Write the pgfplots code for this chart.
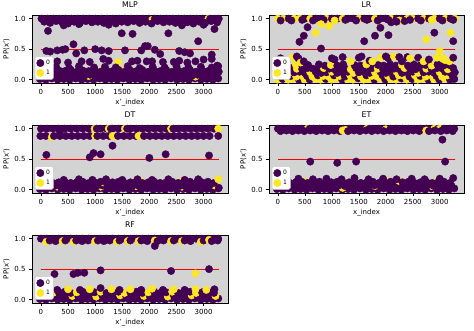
\documentclass[border=0pt]{standalone}
\usepackage{pgfplots}
\pgfplotsset{compat=1.18}
\usepackage{pgfplotstable}
\usepackage{fontspec}
\setmainfont{DejaVu Sans}
\definecolor{vp}{HTML}{440154}
\definecolor{vy}{HTML}{FDE725}
\definecolor{bgc}{HTML}{D3D3D3}
\newcommand{\tk}{\fontsize{7.0}{8}\selectfont}
\newcommand{\tl}{\fontsize{7.8}{9}\selectfont}
\newcommand{\lgf}{\fontsize{6.0}{7}\selectfont}

\pgfplotstableread[row sep=\\]{
x y c\\
10 1.0 p\\ 120 1.0 p\\ 230 1.0 p\\ 340 1.0 p\\ 450 1.0 p\\ 560 1.0 p\\ 670 1.0 p\\ 780 1.0 p\\ 890 1.0 p\\ 1000 1.0 p\\
1110 1.0 p\\ 1220 1.0 p\\ 1330 1.0 p\\ 1440 1.0 p\\ 1550 1.0 p\\ 1660 1.0 p\\ 1770 1.0 p\\ 1880 1.0 p\\ 1990 1.0 p\\ 2050 0.98 y\\ 2100 1.0 p\\
2210 1.0 p\\ 2320 1.0 p\\ 2430 1.0 p\\ 2540 1.0 p\\ 2650 1.0 p\\ 2760 1.0 p\\ 2870 1.0 p\\ 2980 1.0 p\\ 3090 1.0 y\\ 3120 1.0 p\\ 3200 1.0 p\\ 3280 1.0 p\\
60 0.95 p\\ 170 0.93 p\\ 280 0.96 p\\ 390 0.94 p\\ 500 0.92 p\\ 610 0.95 p\\ 720 0.93 p\\ 830 0.96 p\\ 940 0.94 p\\ 1050 0.95 p\\
1160 0.93 p\\ 1270 0.96 p\\ 1380 0.92 p\\ 1490 0.95 p\\ 1600 0.94 p\\ 1710 0.96 p\\ 1820 0.93 p\\ 1930 0.95 p\\ 2040 0.92 p\\ 2150 0.96 p\\
2260 0.94 p\\ 2370 0.95 p\\ 2480 0.93 p\\ 2590 0.96 p\\ 2700 0.94 p\\ 2810 0.92 p\\ 2920 0.95 p\\ 3030 0.93 p\\ 3140 0.96 p\\ 3250 0.94 p\\
130 0.80 p\\ 1490 0.76 p\\ 1690 0.75 p\\ 2350 0.76 p\\ 3200 0.83 p\\ 420 0.89 p\\ 1250 0.90 p\\ 2600 0.89 p\\ 3000 0.90 p\\ 700 0.91 p\\
100 0.47 p\\ 170 0.46 p\\ 300 0.48 p\\ 400 0.49 p\\ 450 0.50 p\\ 600 0.58 p\\ 650 0.43 p\\ 800 0.48 p\\ 1000 0.50 p\\ 1120 0.48 p\\
1250 0.47 p\\ 1550 0.48 p\\ 1850 0.48 p\\ 1920 0.55 p\\ 1970 0.55 p\\ 2100 0.49 p\\ 2200 0.42 p\\ 2550 0.47 p\\ 2650 0.45 p\\ 2750 0.43 p\\
2900 0.63 p\\ 3150 0.41 p\\
80 0.31 p\\ 300 0.30 p\\ 500 0.28 p\\ 750 0.30 p\\ 900 0.29 p\\ 1150 0.34 p\\ 1250 0.31 p\\ 1420 0.29 y\\ 1680 0.30 p\\ 1780 0.31 p\\
1950 0.30 p\\ 2050 0.30 p\\ 2250 0.29 p\\ 2450 0.29 p\\ 2550 0.31 p\\ 2700 0.28 p\\ 2850 0.30 p\\ 3000 0.33 p\\ 3150 0.34 p\\ 3250 0.23 p\\
-20 0.01 p\\ 90 0.0 p\\ 200 0.02 p\\ 310 0.0 p\\ 420 0.01 p\\ 530 0.0 p\\ 640 0.02 p\\ 750 0.0 p\\ 860 0.01 p\\ 970 0.0 p\\
1080 0.02 p\\ 1190 0.0 p\\ 1300 0.01 p\\ 1410 0.0 p\\ 1520 0.02 p\\ 1630 0.0 p\\ 1740 0.01 p\\ 1850 0.0 p\\ 1960 0.02 p\\ 2070 0.0 p\\
2180 0.01 p\\ 2290 0.0 p\\ 2400 0.02 p\\ 2510 0.0 p\\ 2620 0.01 p\\ 2730 0.0 p\\ 2840 0.02 p\\ 2950 0.0 p\\ 3060 0.01 p\\ 3170 0.0 p\\ 3270 0.02 p\\
560 0.10 y\\ 880 0.06 y\\ 1080 0.14 y\\ 1450 0.17 y\\ 1780 0.09 y\\ 2400 0.13 y\\ 2850 0.05 y\\
30 0.07 p\\ 140 0.06 p\\ 250 0.08 p\\ 360 0.07 p\\ 470 0.06 p\\ 580 0.08 p\\ 690 0.07 p\\ 800 0.06 p\\ 910 0.08 p\\ 1020 0.07 p\\
1130 0.06 p\\ 1240 0.08 p\\ 1350 0.07 p\\ 1460 0.06 p\\ 1570 0.08 p\\ 1680 0.07 p\\ 1790 0.06 p\\ 1900 0.08 p\\ 2010 0.07 p\\ 2120 0.06 p\\
2230 0.08 p\\ 2340 0.07 p\\ 2450 0.06 p\\ 2560 0.08 p\\ 2670 0.07 p\\ 2780 0.06 p\\ 2890 0.08 p\\ 3000 0.07 p\\ 3110 0.06 p\\ 3220 0.08 p\\
0 0.14 p\\ 110 0.15 p\\ 220 0.13 p\\ 330 0.15 p\\ 440 0.14 p\\ 550 0.16 p\\ 660 0.13 p\\ 770 0.15 p\\ 880 0.14 p\\ 990 0.16 p\\
1100 0.13 p\\ 1210 0.15 p\\ 1320 0.14 p\\ 1430 0.16 p\\ 1540 0.13 p\\ 1650 0.15 p\\ 1760 0.14 p\\ 1870 0.16 p\\ 1980 0.13 p\\ 2090 0.15 p\\
2200 0.14 p\\ 2310 0.16 p\\ 2420 0.13 p\\ 2530 0.15 p\\ 2640 0.14 p\\ 2750 0.16 p\\ 2860 0.13 p\\ 2970 0.15 p\\ 3080 0.14 p\\ 3190 0.16 p\\ 3280 0.13 p\\
60 0.20 p\\ 280 0.21 p\\ 520 0.19 p\\ 700 0.22 p\\ 980 0.20 p\\ 1180 0.21 p\\ 1380 0.20 p\\ 1600 0.22 p\\ 1820 0.19 p\\ 2060 0.21 p\\
2280 0.20 p\\ 2500 0.22 p\\ 2720 0.20 p\\ 2950 0.21 p\\ 3150 0.20 p\\ 3270 0.22 p\\
}\mlp

\pgfplotstableread[row sep=\\]{
x y c\\
0 1.0 y\\ 100 1.0 y\\ 200 1.0 p\\ 300 1.0 y\\ 400 1.0 y\\ 500 1.0 p\\ 600 1.0 y\\ 700 1.0 p\\ 800 1.0 p\\ 900 1.0 y\\
1000 1.0 p\\ 1100 1.0 p\\ 1200 1.0 y\\ 1300 1.0 p\\ 1400 1.0 p\\ 1500 1.0 y\\ 1600 1.0 p\\ 1700 1.0 p\\ 1800 1.0 y\\ 1900 1.0 p\\
2000 1.0 p\\ 2100 1.0 y\\ 2200 1.0 p\\ 2300 1.0 p\\ 2400 1.0 y\\ 2500 1.0 y\\ 2600 1.0 p\\ 2700 1.0 y\\ 2800 1.0 p\\ 2900 1.0 y\\
3000 1.0 p\\ 3100 1.0 y\\ 3200 1.0 p\\ 3280 1.0 y\\
50 0.97 p\\ 250 0.97 p\\ 450 0.98 p\\ 650 0.97 p\\ 850 0.98 p\\ 1050 0.97 y\\ 1250 0.98 p\\ 1450 0.97 p\\ 1650 0.98 p\\ 1850 0.97 p\\
2050 0.98 p\\ 2250 0.97 y\\ 2450 0.98 p\\ 2650 0.97 p\\ 2850 0.98 y\\ 3050 0.97 p\\ 3250 0.98 p\\
400 0.62 p\\ 480 0.72 p\\ 550 0.86 p\\ 700 0.77 y\\ 800 0.91 y\\ 800 0.51 p\\ 950 0.88 y\\ 1600 0.63 p\\ 1800 0.72 p\\ 1900 0.85 p\\
2050 0.73 p\\ 2100 0.94 p\\ 2200 0.95 p\\ 2350 0.96 p\\ 2750 0.66 y\\ 2900 0.77 p\\ 3200 0.77 y\\ 3250 0.63 p\\ 3000 0.47 y\\
-10 0.0 y\\ 90 0.01 p\\ 190 0.0 y\\ 290 0.02 y\\ 390 0.0 p\\ 490 0.01 y\\ 590 0.0 p\\ 690 0.02 y\\ 790 0.0 y\\ 890 0.01 p\\
990 0.0 y\\ 1090 0.02 y\\ 1190 0.0 p\\ 1290 0.01 y\\ 1390 0.0 y\\ 1490 0.02 p\\ 1590 0.0 y\\ 1690 0.01 y\\ 1790 0.0 p\\ 1890 0.02 y\\
1990 0.0 p\\ 2090 0.01 y\\ 2190 0.0 y\\ 2290 0.02 p\\ 2390 0.0 y\\ 2490 0.01 p\\ 2590 0.0 y\\ 2690 0.02 y\\ 2790 0.0 p\\ 2890 0.01 y\\
2990 0.0 p\\ 3090 0.02 y\\ 3190 0.0 p\\ 3270 0.01 p\\
40 0.06 p\\ 140 0.07 y\\ 240 0.06 p\\ 340 0.05 y\\ 440 0.07 y\\ 540 0.06 p\\ 640 0.05 y\\ 740 0.07 p\\ 840 0.06 y\\ 940 0.05 y\\
1040 0.07 p\\ 1140 0.06 y\\ 1240 0.05 p\\ 1340 0.07 y\\ 1440 0.06 p\\ 1540 0.05 y\\ 1640 0.07 p\\ 1740 0.06 y\\ 1840 0.05 y\\ 1940 0.07 p\\
2040 0.06 y\\ 2140 0.05 p\\ 2240 0.07 y\\ 2340 0.06 y\\ 2440 0.05 p\\ 2540 0.07 y\\ 2640 0.06 p\\ 2740 0.05 y\\ 2840 0.07 y\\ 2940 0.06 p\\
3040 0.05 y\\ 3140 0.07 y\\ 3240 0.06 p\\
0 0.12 p\\ 100 0.13 p\\ 200 0.11 y\\ 300 0.12 p\\ 400 0.13 p\\ 500 0.11 p\\ 600 0.12 y\\ 700 0.13 p\\ 800 0.11 p\\ 900 0.12 p\\
1000 0.13 y\\ 1100 0.11 p\\ 1200 0.12 p\\ 1300 0.13 p\\ 1400 0.11 y\\ 1500 0.12 p\\ 1600 0.13 p\\ 1700 0.11 p\\ 1800 0.12 y\\ 1900 0.13 p\\
2000 0.11 p\\ 2100 0.12 p\\ 2200 0.13 y\\ 2300 0.11 p\\ 2400 0.12 p\\ 2500 0.13 p\\ 2600 0.11 y\\ 2700 0.12 p\\ 2800 0.13 p\\ 2900 0.11 p\\
3000 0.12 y\\ 3100 0.13 p\\ 3200 0.11 p\\ 3280 0.12 p\\
50 0.18 p\\ 150 0.17 p\\ 250 0.19 p\\ 350 0.18 y\\ 450 0.17 p\\ 550 0.19 p\\ 650 0.18 p\\ 750 0.17 p\\ 850 0.19 y\\ 950 0.18 p\\
1050 0.17 p\\ 1150 0.19 p\\ 1250 0.18 p\\ 1350 0.17 y\\ 1450 0.19 p\\ 1550 0.18 p\\ 1650 0.17 p\\ 1750 0.19 p\\ 1850 0.18 y\\ 1950 0.17 p\\
2050 0.19 p\\ 2150 0.18 p\\ 2250 0.17 p\\ 2350 0.19 y\\ 2450 0.18 p\\ 2550 0.17 p\\ 2650 0.19 p\\ 2750 0.18 y\\ 2850 0.17 p\\ 2950 0.19 p\\
3050 0.18 p\\ 3150 0.17 y\\ 3250 0.19 p\\
120 0.24 p\\ 330 0.25 y\\ 450 0.23 p\\ 560 0.24 p\\ 760 0.25 p\\ 870 0.23 p\\ 980 0.24 y\\ 1100 0.23 p\\ 1210 0.25 p\\ 1420 0.24 p\\
1530 0.23 p\\ 1640 0.25 y\\ 1860 0.24 p\\ 1960 0.23 p\\ 2080 0.25 p\\ 2190 0.23 p\\ 2300 0.24 y\\ 2410 0.23 p\\ 2520 0.25 p\\ 2630 0.23 p\\
2740 0.24 p\\ 2850 0.23 y\\ 2960 0.25 p\\ 3070 0.23 p\\ 3180 0.24 p\\
50 0.35 p\\ 250 0.36 y\\ 350 0.38 p\\ 380 0.35 p\\ 420 0.28 y\\ 480 0.30 p\\ 1000 0.35 p\\ 1050 0.33 p\\ 1200 0.37 p\\ 1350 0.30 y\\
1500 0.36 p\\ 1550 0.38 p\\ 1700 0.31 p\\ 1750 0.30 y\\ 1900 0.36 y\\ 2000 0.38 p\\ 2050 0.35 p\\ 2150 0.38 y\\ 2250 0.37 p\\ 2300 0.30 p\\
2400 0.37 p\\ 2450 0.35 y\\ 2600 0.36 p\\ 2700 0.30 y\\ 2800 0.33 p\\ 2950 0.36 y\\ 3050 0.35 y\\ 3100 0.32 y\\ 3180 0.30 y\\ 3250 0.36 p\\
}\lr

\pgfplotstableread[row sep=\\]{
x y c\\
0 1.0 p\\ 110 1.0 p\\ 220 1.0 p\\ 330 1.0 p\\ 440 1.0 p\\ 550 1.0 p\\ 660 1.0 p\\ 770 1.0 p\\ 880 1.0 p\\ 990 1.0 y\\ 1030 1.0 p\\
1100 1.0 p\\ 1210 1.0 p\\ 1250 1.0 y\\ 1290 1.0 p\\ 1320 1.0 p\\ 1430 1.0 p\\ 1550 1.0 y\\ 1590 1.0 p\\ 1650 1.0 p\\ 1760 1.0 p\\ 1870 1.0 p\\ 1980 1.0 p\\
2090 1.0 p\\ 2200 1.0 p\\ 2310 1.0 p\\ 2400 1.0 y\\ 2440 1.0 p\\ 2530 1.0 p\\ 2640 1.0 p\\ 2750 1.0 p\\ 2860 1.0 p\\ 2970 1.0 p\\ 3080 1.0 p\\
3190 1.0 p\\ 3270 1.0 y\\ 350 0.95 p\\
-10 0.88 p\\ 90 0.88 p\\ 200 0.86 y\\ 240 0.88 p\\ 350 0.88 p\\ 460 0.88 p\\ 570 0.88 p\\ 680 0.88 p\\ 790 0.88 p\\ 900 0.88 p\\
1000 0.88 y\\ 1040 0.88 p\\ 1150 0.88 p\\ 1260 0.88 p\\ 1320 0.88 y\\ 1420 0.88 p\\ 1530 0.88 p\\ 1640 0.88 p\\ 1750 0.88 p\\ 1800 0.88 y\\
1900 0.88 p\\ 2010 0.88 p\\ 2120 0.88 p\\ 2230 0.88 p\\ 2340 0.88 p\\ 2450 0.88 p\\ 2560 0.88 p\\ 2670 0.88 p\\ 2780 0.88 p\\ 2890 0.88 p\\
3000 0.88 p\\ 3110 0.88 p\\ 3270 0.88 p\\
100 0.57 p\\ 900 0.53 p\\ 970 0.60 p\\ 1100 0.58 p\\ 1320 0.72 p\\ 2000 0.52 p\\ 2300 0.58 p\\ 3100 0.56 p\\
-20 0.01 p\\ 90 0.0 p\\ 200 0.02 p\\ 310 0.0 p\\ 420 0.01 p\\ 530 0.0 p\\ 640 0.02 p\\ 750 0.0 p\\ 860 0.01 p\\ 970 0.0 p\\
1080 0.02 p\\ 1190 0.0 p\\ 1300 0.01 p\\ 1410 0.0 p\\ 1520 0.02 p\\ 1630 0.0 p\\ 1740 0.01 p\\ 1850 0.0 p\\ 1960 0.02 p\\ 2070 0.0 p\\
2180 0.01 p\\ 2290 0.0 p\\ 2400 0.02 p\\ 2510 0.0 p\\ 2620 0.01 p\\ 2730 0.0 p\\ 2840 0.02 p\\ 2950 0.0 p\\ 3060 0.01 p\\ 3170 0.0 p\\ 3270 0.02 p\\
300 0.05 y\\ 700 0.09 y\\ 1100 0.05 y\\ 1450 0.10 y\\ 1750 0.06 y\\ 2150 0.09 y\\ 2600 0.05 y\\ 2950 0.08 y\\ 3200 0.07 y\\
30 0.06 p\\ 140 0.07 p\\ 250 0.06 p\\ 360 0.05 p\\ 470 0.07 p\\ 580 0.06 p\\ 690 0.05 p\\ 800 0.07 p\\ 910 0.06 p\\ 1020 0.05 p\\
1130 0.07 p\\ 1240 0.06 p\\ 1350 0.05 p\\ 1460 0.07 p\\ 1570 0.06 p\\ 1680 0.05 p\\ 1790 0.07 p\\ 1900 0.06 p\\ 2010 0.05 p\\ 2120 0.07 p\\
2230 0.06 p\\ 2340 0.05 p\\ 2450 0.07 p\\ 2560 0.06 p\\ 2670 0.05 p\\ 2780 0.07 p\\ 2890 0.06 p\\ 3000 0.05 p\\ 3110 0.07 p\\
1150 0.12 y\\ 1850 0.13 y\\ 2600 0.14 y\\
0 0.12 p\\ 110 0.13 p\\ 220 0.11 p\\ 330 0.12 p\\ 440 0.13 p\\ 550 0.11 p\\ 660 0.12 p\\ 770 0.13 p\\ 880 0.11 p\\ 990 0.12 p\\
1100 0.13 p\\ 1210 0.11 p\\ 1320 0.12 p\\ 1430 0.13 p\\ 1540 0.11 p\\ 1650 0.12 p\\ 1760 0.13 p\\ 1870 0.11 p\\ 1980 0.12 p\\ 2090 0.13 p\\
2200 0.11 p\\ 2310 0.12 p\\ 2420 0.13 p\\ 2530 0.11 p\\ 2640 0.12 p\\ 2750 0.13 p\\ 2860 0.11 p\\ 2970 0.12 p\\ 3080 0.13 p\\ 3190 0.11 p\\
150 0.17 p\\ 420 0.16 p\\ 700 0.17 p\\ 950 0.16 p\\ 1200 0.17 p\\ 1500 0.16 p\\ 1780 0.17 p\\ 2050 0.16 p\\ 2350 0.17 p\\ 2650 0.16 p\\ 2900 0.17 p\\
3270 0.17 y\\ 3280 0.03 p\\
}\dt

\pgfplotstableread[row sep=\\]{
x y c\\
0 1.0 p\\ 110 1.0 p\\ 220 1.0 p\\ 330 1.0 p\\ 440 1.0 p\\ 550 1.0 y\\ 590 1.0 p\\ 660 1.0 p\\ 770 1.0 p\\ 880 1.0 p\\ 990 1.0 p\\
1100 1.0 p\\ 1210 1.0 p\\ 1320 1.0 p\\ 1430 1.0 p\\ 1540 1.0 p\\ 1650 1.0 y\\ 1700 1.0 p\\ 1760 1.0 p\\ 1870 1.0 p\\ 1980 1.0 p\\ 2000 0.99 y\\
2090 1.0 p\\ 2200 1.0 p\\ 2310 1.0 p\\ 2420 1.0 p\\ 2530 1.0 p\\ 2640 1.0 p\\ 2750 1.0 p\\ 2860 1.0 p\\ 2900 1.0 y\\ 2970 1.0 p\\ 3000 1.0 y\\
3080 1.0 p\\ 3190 1.0 p\\ 3270 1.0 p\\
50 0.96 p\\ 160 0.97 p\\ 270 0.96 p\\ 380 0.97 p\\ 490 0.96 p\\ 600 0.97 p\\ 710 0.96 p\\ 820 0.97 p\\ 930 0.96 p\\ 1040 0.97 p\\
1150 0.96 p\\ 1200 0.97 y\\ 1250 0.98 y\\ 1300 0.96 p\\ 1410 0.97 p\\ 1520 0.96 p\\ 1630 0.97 p\\ 1740 0.96 p\\ 1850 0.97 p\\ 1960 0.96 p\\
2070 0.97 p\\ 2180 0.96 p\\ 2290 0.97 p\\ 2400 0.96 p\\ 2510 0.97 p\\ 2620 0.96 p\\ 2750 0.97 y\\ 2800 0.96 p\\ 2910 0.97 p\\ 3020 0.96 p\\
3130 0.97 p\\ 3240 0.96 p\\
600 0.46 p\\ 1100 0.44 p\\ 1450 0.46 p\\ 3050 0.82 p\\ 3100 0.46 p\\
-20 0.01 p\\ 90 0.0 p\\ 200 0.02 p\\ 310 0.0 p\\ 420 0.01 p\\ 530 0.0 p\\ 640 0.02 p\\ 750 0.0 p\\ 860 0.01 p\\ 970 0.0 p\\
1080 0.02 p\\ 1190 0.0 p\\ 1300 0.01 p\\ 1410 0.0 p\\ 1520 0.02 p\\ 1630 0.0 p\\ 1740 0.01 p\\ 1850 0.0 p\\ 1960 0.02 p\\ 2070 0.0 p\\
2180 0.01 p\\ 2290 0.0 p\\ 2400 0.02 p\\ 2510 0.0 p\\ 2620 0.01 p\\ 2730 0.0 p\\ 2840 0.02 p\\ 2950 0.0 p\\ 3060 0.01 p\\ 3170 0.0 p\\ 3270 0.02 p\\
500 0.13 y\\ 650 0.08 y\\ 1200 0.03 y\\ 1700 0.10 y\\ 1800 0.06 y\\ 2000 0.15 y\\ 2850 0.06 y\\ 2950 0.14 y\\
30 0.06 p\\ 140 0.07 p\\ 250 0.06 p\\ 360 0.05 p\\ 470 0.07 p\\ 580 0.06 p\\ 690 0.05 p\\ 800 0.07 p\\ 910 0.06 p\\ 1020 0.05 p\\
1130 0.07 p\\ 1240 0.06 p\\ 1350 0.05 p\\ 1460 0.07 p\\ 1570 0.06 p\\ 1680 0.05 p\\ 1790 0.07 p\\ 1900 0.06 p\\ 2010 0.05 p\\ 2120 0.07 p\\
2230 0.06 p\\ 2340 0.05 p\\ 2450 0.07 p\\ 2560 0.06 p\\ 2670 0.05 p\\ 2780 0.07 p\\ 2890 0.06 p\\ 3000 0.05 p\\ 3110 0.07 p\\ 3220 0.06 p\\
0 0.12 p\\ 110 0.13 p\\ 220 0.11 p\\ 330 0.12 p\\ 440 0.13 p\\ 550 0.11 p\\ 660 0.12 p\\ 770 0.13 p\\ 880 0.11 p\\ 990 0.12 p\\
1100 0.13 p\\ 1210 0.11 p\\ 1320 0.12 p\\ 1430 0.13 p\\ 1540 0.11 p\\ 1650 0.12 p\\ 1760 0.13 p\\ 1870 0.11 p\\ 1980 0.12 p\\ 2090 0.13 p\\
2200 0.11 p\\ 2250 0.14 y\\ 2310 0.12 p\\ 2420 0.13 p\\ 2530 0.11 p\\ 2640 0.12 p\\ 2750 0.13 p\\ 2860 0.11 p\\ 2970 0.12 p\\ 3080 0.13 p\\ 3190 0.11 p\\
100 0.17 p\\ 380 0.18 p\\ 650 0.17 p\\ 900 0.18 p\\ 1180 0.17 p\\ 1420 0.19 p\\ 1680 0.17 p\\ 1950 0.18 p\\ 2200 0.17 p\\ 2480 0.18 p\\
2720 0.17 p\\ 3000 0.18 p\\ 3250 0.19 p\\
}\et

\pgfplotstableread[row sep=\\]{
x y c\\
0 1.0 p\\ 110 1.0 p\\ 220 1.0 p\\ 330 1.0 p\\ 440 1.0 p\\ 550 1.0 p\\ 660 1.0 p\\ 770 1.0 p\\ 880 1.0 p\\ 990 1.0 p\\
1100 1.0 p\\ 1210 1.0 p\\ 1320 1.0 p\\ 1430 1.0 p\\ 1540 1.0 p\\ 1650 1.0 p\\ 1760 1.0 p\\ 1870 1.0 p\\ 1980 1.0 p\\ 2090 1.0 p\\
2200 1.0 p\\ 2310 1.0 p\\ 2420 1.0 p\\ 2530 1.0 p\\ 2640 1.0 p\\ 2750 1.0 p\\ 2860 1.0 p\\ 2970 1.0 p\\ 3080 1.0 p\\ 3190 1.0 p\\ 3270 1.0 p\\
100 0.95 y\\ 160 0.97 p\\ 270 0.96 p\\ 400 0.96 y\\ 450 0.97 p\\ 600 0.95 y\\ 650 0.97 p\\ 760 0.96 p\\ 870 0.97 p\\ 1000 0.96 y\\
1050 0.97 p\\ 1160 0.96 p\\ 1270 0.97 p\\ 1400 0.95 y\\ 1450 0.97 p\\ 1600 0.96 y\\ 1650 0.97 p\\ 1800 0.96 y\\ 1850 0.97 p\\ 1960 0.96 p\\
2100 0.97 y\\ 2150 0.96 p\\ 2260 0.97 p\\ 2400 0.96 y\\ 2450 0.97 p\\ 2600 0.96 y\\ 2650 0.97 p\\ 2760 0.96 p\\ 2950 0.95 y\\ 3000 0.97 p\\
3100 0.98 y\\ 3150 0.96 p\\ 3260 0.97 p\\ 2100 0.88 p\\
250 0.42 p\\ 600 0.42 p\\ 680 0.44 p\\ 800 0.44 p\\ 1100 0.48 p\\ 2400 0.47 p\\ 2850 0.43 y\\ 3100 0.50 p\\
-20 0.01 p\\ 90 0.0 p\\ 200 0.02 p\\ 310 0.0 p\\ 420 0.01 p\\ 530 0.0 p\\ 640 0.02 p\\ 750 0.0 p\\ 860 0.01 p\\ 970 0.0 p\\
1080 0.02 p\\ 1190 0.0 p\\ 1300 0.01 p\\ 1410 0.0 p\\ 1520 0.02 p\\ 1630 0.0 p\\ 1740 0.01 p\\ 1850 0.0 p\\ 1960 0.02 p\\ 2070 0.0 p\\
2180 0.01 p\\ 2290 0.0 p\\ 2400 0.02 p\\ 2510 0.0 p\\ 2620 0.01 p\\ 2730 0.0 p\\ 2840 0.02 p\\ 2950 0.0 p\\ 3060 0.01 p\\ 3170 0.0 p\\ 3270 0.02 p\\
30 0.06 p\\ 140 0.07 y\\ 250 0.06 p\\ 360 0.05 p\\ 470 0.07 p\\ 580 0.06 y\\ 690 0.05 p\\ 800 0.07 p\\ 910 0.06 p\\ 1020 0.05 y\\
1130 0.07 p\\ 1240 0.06 p\\ 1350 0.05 p\\ 1460 0.07 y\\ 1570 0.06 p\\ 1680 0.05 p\\ 1790 0.07 p\\ 1900 0.06 y\\ 2010 0.05 p\\ 2120 0.07 p\\
2230 0.06 p\\ 2340 0.05 y\\ 2450 0.07 p\\ 2560 0.06 p\\ 2670 0.05 p\\ 2780 0.07 y\\ 2890 0.06 p\\ 3000 0.05 p\\ 3110 0.07 p\\ 3220 0.06 y\\
0 0.12 p\\ 110 0.13 p\\ 220 0.11 y\\ 330 0.12 p\\ 440 0.13 p\\ 550 0.11 p\\ 660 0.12 y\\ 770 0.13 p\\ 880 0.11 p\\ 990 0.12 p\\
1100 0.13 y\\ 1210 0.11 p\\ 1320 0.12 p\\ 1430 0.13 p\\ 1540 0.11 y\\ 1650 0.12 p\\ 1760 0.13 p\\ 1870 0.11 p\\ 1980 0.12 y\\ 2090 0.13 p\\
2200 0.11 p\\ 2310 0.12 p\\ 2420 0.13 y\\ 2530 0.11 p\\ 2640 0.12 p\\ 2750 0.13 p\\ 2860 0.11 y\\ 2970 0.12 p\\ 3080 0.13 p\\ 3190 0.11 p\\
80 0.17 y\\ 300 0.16 p\\ 500 0.17 y\\ 720 0.16 p\\ 900 0.17 y\\ 1100 0.19 p\\ 1300 0.17 y\\ 1450 0.16 p\\ 1650 0.17 y\\ 1850 0.16 p\\
2050 0.18 y\\ 2250 0.16 p\\ 2450 0.17 y\\ 2650 0.16 p\\ 2850 0.17 y\\ 3050 0.16 y\\ 3200 0.17 p\\
}\rf

\pgfplotsset{
  pp/.style={
    scale only axis, width=196pt, height=68pt, anchor=south west,
    xmin=-165, xmax=3450, ymin=-0.055, ymax=1.06,
    axis background/.style={fill=bgc},
    xtick={0,500,...,3000}, ytick={0,0.5,1},
    yticklabel style={/pgf/number format/.cd, fixed, fixed zerofill, precision=1},
    xticklabel style={/pgf/number format/1000 sep={}},
    /pgf/number format/assume math mode=true,
    tick align=outside, tick pos=left, major tick length=3pt,
    tick style={black, line width=0.5pt},
    axis line style={line width=0.5pt},
    ticklabel style={font=\tk},
    title style={font=\tl, yshift=-2.5pt},
    label style={font=\tk},
    ylabel={PP(x')},
    ylabel style={yshift=-2pt},
    xlabel style={yshift=2.5pt},
    legend style={at={(0.015,0.05)}, anchor=south west, font=\lgf,
      draw=gray!40, rounded corners=1.5pt, fill=white, inner sep=1.5pt,
      row sep=0pt, /tikz/every even column/.append style={column sep=3pt}},
    legend cell align=left,
  },
  sc/.style={scatter, only marks, scatter src=explicit symbolic, mark size=3.7pt,
    scatter/classes={p={mark=*, draw=vp, fill=vp}, y={mark=*, draw=vy, fill=vy}}},
  rl/.style={red, line width=0.9pt, forget plot},
}

\begin{document}
\begin{tikzpicture}[x=1pt,y=1pt]
\path[use as bounding box] (0,0) rectangle (474,330);

\begin{axis}[pp, at={(32pt,247pt)}, title={MLP}, xlabel={x'\_index}]
\addplot[rl] coordinates {(0,0.5) (3280,0.5)};
\addplot[sc] table[x=x, y=y, meta=c] {\mlp};
\legend{0,1}
\end{axis}

\begin{axis}[pp, at={(269pt,247pt)}, width=195pt, title={LR}, xlabel={x\_index}]
\addplot[rl] coordinates {(0,0.5) (3280,0.5)};
\addplot[sc] table[x=x, y=y, meta=c] {\lr};
\legend{0,1}
\end{axis}

\begin{axis}[pp, at={(32pt,137pt)}, title={DT}, xlabel={x'\_index}]
\addplot[rl] coordinates {(0,0.5) (3280,0.5)};
\addplot[sc] table[x=x, y=y, meta=c] {\dt};
\legend{0,1}
\end{axis}

\begin{axis}[pp, at={(269pt,137pt)}, width=195pt, title={ET}, xlabel={x\_index}]
\addplot[rl] coordinates {(0,0.5) (3280,0.5)};
\addplot[sc] table[x=x, y=y, meta=c] {\et};
\legend{0,1}
\end{axis}

\begin{axis}[pp, at={(32pt,27pt)}, title={RF}, xlabel={x'\_index}]
\addplot[rl] coordinates {(0,0.5) (3280,0.5)};
\addplot[sc] table[x=x, y=y, meta=c] {\rf};
\legend{0,1}
\end{axis}
\end{tikzpicture}
\end{document}
